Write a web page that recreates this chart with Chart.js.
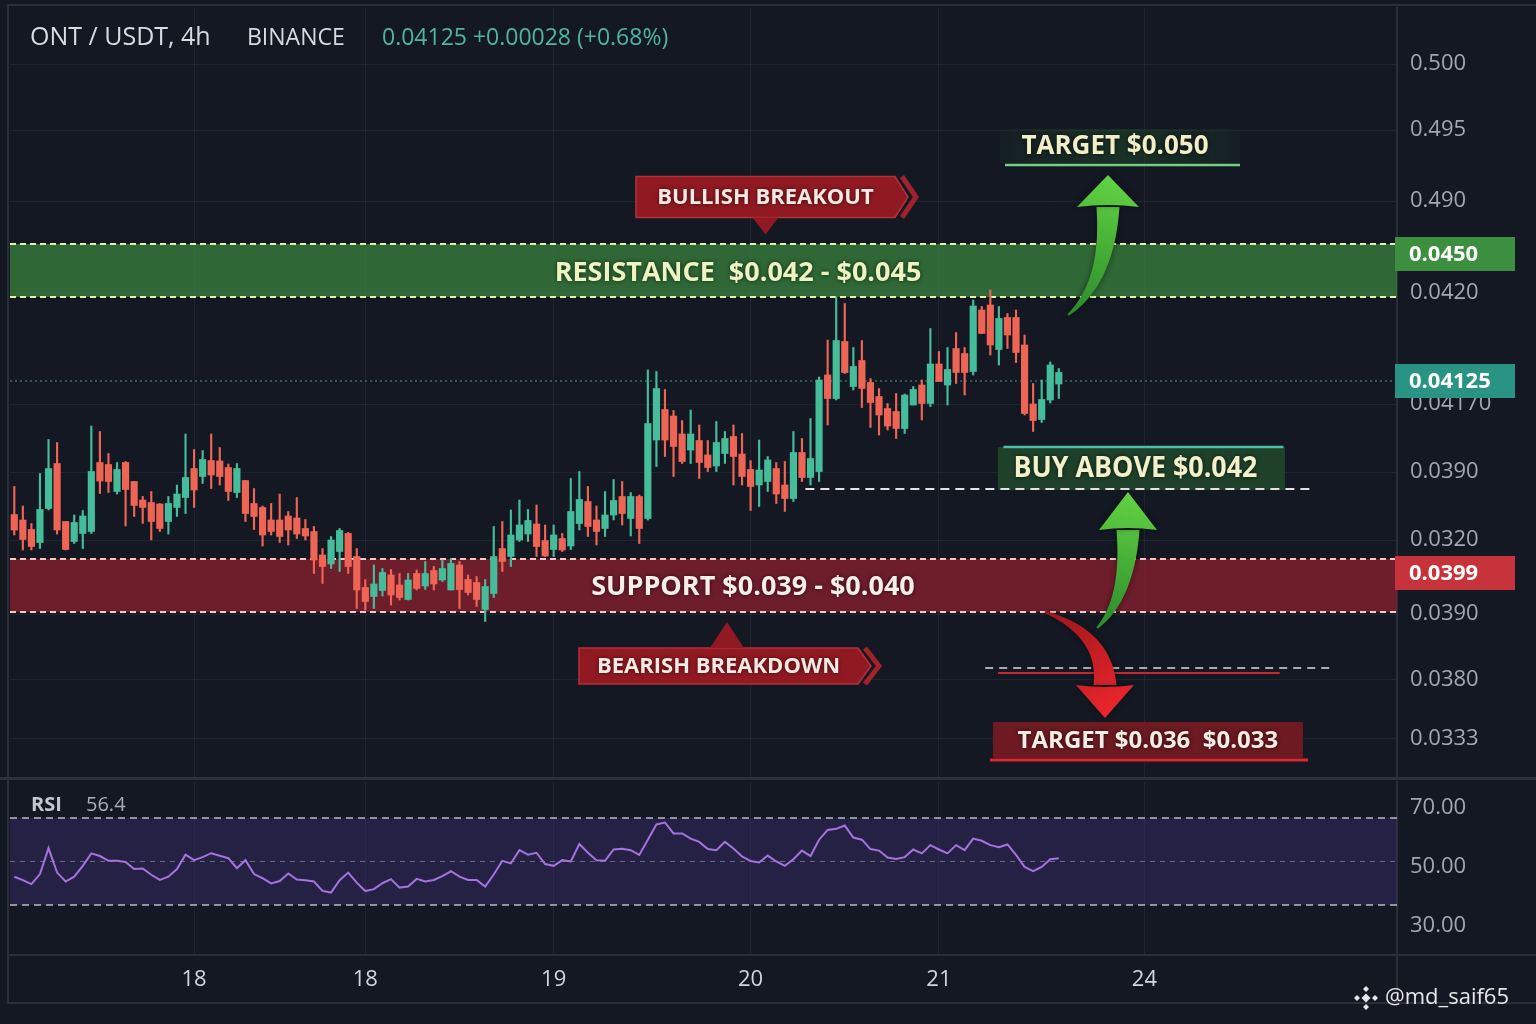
<!DOCTYPE html>
<html>
<head>
<meta charset="utf-8">
<script src="https://cdn.jsdelivr.net/npm/chart.js@4.4.1/dist/chart.umd.min.js"></script>
<style>
  html, body { margin: 0; padding: 0; background: #141823; }
  #wrap { position: relative; width: 1536px; height: 1024px; overflow: hidden; }
  #main { position: absolute; left: 0; top: 0; }
  #rsi { position: absolute; left: 0; top: 780px; }
</style>
</head>
<body>
<div id="wrap">
  <canvas id="main" width="1536" height="780"></canvas>
  <canvas id="rsi" width="1536" height="244"></canvas>
</div>
<script>
// ONT/USDT 4h candles
const candleOpen = [
  0.03971, 0.03960, 0.03941, 0.03915, 0.03983, 0.04073, 0.03957, 0.03917, 0.03933, 0.03937,
  0.04075, 0.04071, 0.04017, 0.04075, 0.04037, 0.04000, 0.03995, 0.03992, 0.03957, 0.03985,
  0.04005, 0.04063, 0.04047, 0.04079, 0.04078, 0.04065, 0.04015, 0.04039, 0.03993, 0.03985,
  0.03960, 0.03960, 0.03968, 0.03964, 0.03943, 0.03937, 0.03890, 0.03872, 0.03897, 0.03933,
  0.03887, 0.03825, 0.03807, 0.03819, 0.03850, 0.03830, 0.03801, 0.03853, 0.03828, 0.03859,
  0.03840, 0.03820, 0.03870, 0.03841, 0.03835, 0.03781, 0.03813, 0.03903, 0.03887, 0.03920,
  0.03932, 0.03952, 0.03919, 0.03901, 0.03923, 0.03908, 0.03953, 0.03997, 0.03960, 0.03943,
  0.03970, 0.04007, 0.03963, 0.04007, 0.03963, 0.04120, 0.04181, 0.04168, 0.04132, 0.04100,
  0.04119, 0.04090, 0.04068, 0.04093, 0.04127, 0.04092, 0.04061, 0.04030, 0.04037, 0.04063,
  0.04030, 0.04003, 0.04095, 0.04045, 0.04057, 0.04250, 0.04203, 0.04317, 0.04227, 0.04279,
  0.04235, 0.04207, 0.04183, 0.04177, 0.04143, 0.04190, 0.04230, 0.04193, 0.04272, 0.04230,
  0.04303, 0.04293, 0.04257, 0.04380, 0.04390, 0.04301, 0.04365, 0.04365, 0.04310, 0.04192,
  0.04161, 0.04200, 0.04232
];
const candleHigh = [
  0.04027, 0.03988, 0.03953, 0.04053, 0.04121, 0.04115, 0.03957, 0.03970, 0.03979, 0.04148,
  0.04137, 0.04093, 0.04075, 0.04077, 0.04037, 0.04007, 0.04017, 0.03993, 0.04007, 0.04030,
  0.04132, 0.04101, 0.04099, 0.04132, 0.04105, 0.04072, 0.04073, 0.04039, 0.04023, 0.03988,
  0.03993, 0.04012, 0.03977, 0.04005, 0.03961, 0.03947, 0.03903, 0.03927, 0.03943, 0.03935,
  0.03903, 0.03841, 0.03870, 0.03863, 0.03861, 0.03853, 0.03853, 0.03860, 0.03877, 0.03867,
  0.03880, 0.03883, 0.03877, 0.03850, 0.03847, 0.03841, 0.03947, 0.03957, 0.03980, 0.04000,
  0.03981, 0.03990, 0.03950, 0.03950, 0.03933, 0.04043, 0.04057, 0.04027, 0.03988, 0.04017,
  0.04041, 0.04037, 0.04015, 0.04010, 0.04260, 0.04257, 0.04221, 0.04179, 0.04159, 0.04180,
  0.04150, 0.04119, 0.04157, 0.04137, 0.04150, 0.04133, 0.04079, 0.04120, 0.04087, 0.04075,
  0.04077, 0.04137, 0.04123, 0.04163, 0.04246, 0.04320, 0.04406, 0.04393, 0.04305, 0.04319,
  0.04243, 0.04223, 0.04193, 0.04213, 0.04212, 0.04227, 0.04240, 0.04343, 0.04297, 0.04305,
  0.04335, 0.04305, 0.04400, 0.04387, 0.04420, 0.04387, 0.04373, 0.04380, 0.04330, 0.04233,
  0.04240, 0.04276, 0.04263
];
const candleLow = [
  0.03930, 0.03900, 0.03900, 0.03903, 0.03980, 0.03932, 0.03900, 0.03913, 0.03903, 0.03933,
  0.04013, 0.04015, 0.04012, 0.03948, 0.03967, 0.03953, 0.03920, 0.03937, 0.03932, 0.03967,
  0.03973, 0.03985, 0.04033, 0.04023, 0.04030, 0.03999, 0.04005, 0.03957, 0.03941, 0.03908,
  0.03930, 0.03915, 0.03910, 0.03923, 0.03920, 0.03853, 0.03833, 0.03863, 0.03857, 0.03853,
  0.03783, 0.03780, 0.03783, 0.03808, 0.03790, 0.03800, 0.03800, 0.03820, 0.03821, 0.03820,
  0.03837, 0.03820, 0.03783, 0.03810, 0.03787, 0.03757, 0.03805, 0.03857, 0.03867, 0.03917,
  0.03917, 0.03887, 0.03887, 0.03887, 0.03897, 0.03901, 0.03940, 0.03927, 0.03910, 0.03927,
  0.03960, 0.03950, 0.03928, 0.03913, 0.03960, 0.04067, 0.04087, 0.04047, 0.04073, 0.04073,
  0.04043, 0.04057, 0.04057, 0.04073, 0.04030, 0.04030, 0.03979, 0.03987, 0.04017, 0.03993,
  0.03977, 0.03997, 0.04037, 0.04030, 0.04037, 0.04150, 0.04200, 0.04253, 0.04220, 0.04185,
  0.04145, 0.04130, 0.04140, 0.04123, 0.04133, 0.04190, 0.04160, 0.04187, 0.04237, 0.04190,
  0.04233, 0.04210, 0.04250, 0.04333, 0.04290, 0.04270, 0.04303, 0.04275, 0.04170, 0.04137,
  0.04155, 0.04194, 0.04203
];
const candleClose = [
  0.03940, 0.03921, 0.03907, 0.03981, 0.04063, 0.03940, 0.03901, 0.03955, 0.03968, 0.04057,
  0.04038, 0.04037, 0.04061, 0.04021, 0.03989, 0.03985, 0.03957, 0.03943, 0.03993, 0.04012,
  0.04045, 0.04020, 0.04081, 0.04050, 0.04047, 0.04017, 0.04063, 0.03973, 0.03967, 0.03930,
  0.03937, 0.03927, 0.03940, 0.03932, 0.03928, 0.03880, 0.03867, 0.03920, 0.03939, 0.03867,
  0.03820, 0.03797, 0.03832, 0.03855, 0.03810, 0.03805, 0.03840, 0.03823, 0.03853, 0.03832,
  0.03863, 0.03873, 0.03821, 0.03815, 0.03801, 0.03827, 0.03887, 0.03877, 0.03930, 0.03950,
  0.03959, 0.03907, 0.03888, 0.03930, 0.03900, 0.03977, 0.04001, 0.03947, 0.03937, 0.03970,
  0.03999, 0.03973, 0.04007, 0.03943, 0.04153, 0.04223, 0.04120, 0.04107, 0.04077, 0.04132,
  0.04075, 0.04065, 0.04115, 0.04123, 0.04087, 0.04047, 0.04027, 0.04060, 0.04080, 0.04012,
  0.04003, 0.04095, 0.04045, 0.04083, 0.04240, 0.04203, 0.04319, 0.04255, 0.04267, 0.04223,
  0.04195, 0.04170, 0.04148, 0.04143, 0.04210, 0.04221, 0.04193, 0.04272, 0.04237, 0.04261,
  0.04255, 0.04255, 0.04388, 0.04333, 0.04310, 0.04363, 0.04330, 0.04295, 0.04173, 0.04159,
  0.04201, 0.04270, 0.04255
];
// RSI, one value per candle
const rsiValues = [
  43.0, 41.4, 39.6, 44.2, 56.1, 44.9, 40.8, 43.0, 48.0, 53.7,
  52.5, 50.3, 50.3, 49.8, 46.5, 46.8, 43.9, 41.5, 43.0, 46.5,
  53.1, 50.6, 52.0, 53.8, 52.6, 51.5, 46.9, 50.6, 44.2, 42.3,
  39.9, 41.0, 44.5, 41.7, 41.4, 40.8, 36.5, 35.7, 41.4, 44.9,
  40.3, 36.4, 37.3, 40.0, 41.9, 38.0, 38.5, 42.0, 40.8, 41.5,
  43.3, 45.5, 43.0, 41.5, 41.5, 38.5, 44.0, 50.3, 49.1, 55.2,
  53.1, 54.0, 48.8, 48.0, 50.6, 50.0, 58.0, 54.0, 50.6, 50.3,
  55.5, 55.8, 55.2, 53.0, 60.0, 67.0, 67.9, 62.9, 62.9, 60.5,
  59.0, 55.7, 55.2, 59.0, 56.0, 52.3, 50.2, 49.5, 52.7, 50.0,
  48.0, 51.0, 55.0, 52.5, 60.0, 64.5, 65.0, 66.5, 61.0, 60.0,
  55.7, 55.0, 51.8, 51.1, 52.0, 55.5, 53.7, 57.5, 55.5, 53.7,
  57.5, 55.2, 60.5, 59.5, 57.5, 56.5, 57.8, 53.0, 47.5, 45.6,
  47.5, 51.0, 51.5
];

// time axis: candle slot where each day label sits
const dayTickIdx = [21, 41, 63, 86, 108, 132];
const dayTickText = ['18', '18', '19', '20', '21', '24'];

// price axis labels as printed on the picture
const priceTickPos = [0.04872, 0.0474, 0.04598, 0.04414, 0.04192, 0.04056, 0.0392, 0.03772, 0.0364, 0.03522];
const priceTickText = ['0.500', '0.495', '0.490', '0.0420', '0.04170', '0.0390', '0.0320', '0.0390', '0.0380', '0.0333'];
const badgeLevels = [0.04492, 0.04238, 0.03854];
const badgeText = ['0.0450', '0.04125', '0.0399'];

const rsiTickPos = [74.6, 47.7, 20.3];
const rsiTickText = ['70.00', '50.00', '30.00'];
const rsiBand = [30, 70];
const rsiMid = 50;

const resistanceZone = [0.04406, 0.04512];
const supportZone = [0.03776, 0.03882];
const lastPrice = 0.04238;
const buyLevel = 0.04022;
const breakdownLevel = 0.03664;
const breakdownRedLevel = 0.03654;

const SLOTS = 162;
const UP = '#45bd9b';
const DOWN = '#ef6555';
const FONT = '"Open Sans", "Noto Sans", sans-serif';
const GRID = 'rgba(255,255,255,0.055)';
const FRAME = '#2a2e39';

Chart.defaults.font.family = FONT;

const candleColors = candleClose.map((c, i) => (c >= candleOpen[i] ? UP : DOWN));

function hline(ctx, x0, x1, y, color, dash, width) {
  ctx.save();
  ctx.strokeStyle = color;
  ctx.lineWidth = width;
  ctx.setLineDash(dash);
  ctx.beginPath();
  ctx.moveTo(x0, y);
  ctx.lineTo(x1, y);
  ctx.stroke();
  ctx.restore();
}

function text(ctx, str, x, y, font, color, maxW, align, shadow) {
  ctx.save();
  ctx.font = font;
  ctx.fillStyle = color;
  ctx.textAlign = align || 'center';
  ctx.textBaseline = 'middle';
  if (shadow) {
    ctx.shadowColor = 'rgba(0,0,0,0.6)';
    ctx.shadowBlur = 4;
  }
  if (maxW) ctx.fillText(str, x, y, maxW);
  else ctx.fillText(str, x, y);
  ctx.restore();
}

function ribbon(ctx, cx, cy, w, h, str, ptrDir, ptrX) {
  const l = cx - w / 2, r = cx + w / 2, t = cy - h / 2, b = cy + h / 2;
  ctx.save();
  ctx.fillStyle = '#911a22';
  ctx.beginPath();
  ctx.moveTo(l, t);
  ctx.lineTo(r, t);
  ctx.lineTo(r + 13, cy);
  ctx.lineTo(r, b);
  ctx.lineTo(l, b);
  ctx.closePath();
  ctx.fill();
  ctx.strokeStyle = '#b3313a';
  ctx.lineWidth = 1.5;
  ctx.stroke();
  ctx.beginPath();
  ctx.moveTo(r + 7, t);
  ctx.lineTo(r + 21, cy);
  ctx.lineTo(r + 7, b);
  ctx.strokeStyle = '#a1222a';
  ctx.lineWidth = 5;
  ctx.stroke();
  ctx.fillStyle = '#911a22';
  ctx.beginPath();
  if (ptrDir === 'down') {
    ctx.moveTo(ptrX - 13, b);
    ctx.lineTo(ptrX + 13, b);
    ctx.lineTo(ptrX, b + 17);
  } else {
    ctx.moveTo(ptrX - 17, t);
    ctx.lineTo(ptrX + 17, t);
    ctx.lineTo(ptrX, t - 26);
  }
  ctx.closePath();
  ctx.fill();
  ctx.restore();
  text(ctx, str, cx, cy + 1, 'bold 22px ' + FONT, '#f6e9e3', w - 30, 'center', true);
}

// tapered curved arrow from tail to tip
function arrow(ctx, tail, tip, headLen, headW, c0, c1) {
  const dir = tip.y < tail.y ? 1 : -1;
  const end = { x: tip.x, y: tip.y + dir * headLen };
  const ctrl = { x: end.x, y: tail.y + (end.y - tail.y) * 0.3 };
  const N = 40, left = [], right = [];
  for (let k = 0; k <= N; k++) {
    const t = k / N;
    const x = (1 - t) * (1 - t) * tail.x + 2 * (1 - t) * t * ctrl.x + t * t * end.x;
    const y = (1 - t) * (1 - t) * tail.y + 2 * (1 - t) * t * ctrl.y + t * t * end.y;
    const dx = 2 * (1 - t) * (ctrl.x - tail.x) + 2 * t * (end.x - ctrl.x);
    const dy = 2 * (1 - t) * (ctrl.y - tail.y) + 2 * t * (end.y - ctrl.y);
    const len = Math.hypot(dx, dy) || 1;
    const w = 1 + t * 10.5;
    left.push([x - (dy / len) * w, y + (dx / len) * w]);
    right.push([x + (dy / len) * w, y - (dx / len) * w]);
  }
  const g = ctx.createLinearGradient(tail.x, tail.y, tip.x, tip.y);
  g.addColorStop(0, c0);
  g.addColorStop(1, c1);
  ctx.save();
  ctx.fillStyle = g;
  ctx.shadowColor = 'rgba(0,0,0,0.45)';
  ctx.shadowBlur = 6;
  ctx.beginPath();
  left.forEach(([x, y], k) => (k ? ctx.lineTo(x, y) : ctx.moveTo(x, y)));
  for (let k = right.length - 1; k >= 0; k--) ctx.lineTo(right[k][0], right[k][1]);
  ctx.closePath();
  ctx.fill();
  ctx.beginPath();
  ctx.moveTo(tip.x, tip.y);
  ctx.lineTo(end.x - headW / 2, end.y);
  ctx.quadraticCurveTo(end.x, end.y - dir * 4, end.x + headW / 2, end.y);
  ctx.closePath();
  ctx.fill();
  ctx.restore();
}

// keep Chart.js from reserving room for half-labels at the axis ends
function noEdgePadding(s) {
  s.paddingTop = 0;
  s.paddingBottom = 0;
  s.paddingLeft = 0;
  s.paddingRight = 0;
}

const mainDecor = {
  id: 'mainDecor',
  beforeDatasetsDraw(chart) {
    const { ctx, chartArea: a } = chart;
    const Y = v => chart.scales.y.getPixelForValue(v);
    const rTop = Y(resistanceZone[1]), rBot = Y(resistanceZone[0]);
    const sTop = Y(supportZone[1]), sBot = Y(supportZone[0]);
    ctx.save();
    ctx.fillStyle = 'rgba(55,125,60,0.78)';
    ctx.fillRect(a.left, rTop, a.width, rBot - rTop);
    ctx.fillStyle = 'rgba(130,30,45,0.82)';
    ctx.fillRect(a.left, sTop, a.width, sBot - sTop);
    ctx.restore();
    hline(ctx, a.left, a.right, rTop, '#e4f2a6', [6, 4], 2);
    hline(ctx, a.left, a.right, rBot, '#e4f2a6', [6, 4], 2);
    hline(ctx, a.left, a.right, sTop, '#f1c9c9', [6, 4], 2);
    hline(ctx, a.left, a.right, sBot, '#f1c9c9', [6, 4], 2);
    hline(ctx, a.left, a.right, Y(lastPrice), 'rgba(90,190,170,0.75)', [2, 3], 1);
  },
  afterDatasetsDraw(chart) {
    const { ctx } = chart;
    const X = v => chart.scales.x.getPixelForValue(v);
    const Y = v => chart.scales.y.getPixelForValue(v);

    // zone captions
    text(ctx, 'RESISTANCE  $0.042 - $0.045', X(84.53), Y((resistanceZone[0] + resistanceZone[1]) / 2) + 3,
      'bold 27px ' + FONT, '#eef3c2', 376, 'center', true);
    text(ctx, 'SUPPORT $0.039 - $0.040', X(86.28), Y((supportZone[0] + supportZone[1]) / 2) + 2,
      'bold 27px ' + FONT, '#f8eee8', 334, 'center', true);

    // ribbons
    ribbon(ctx, X(87.74), Y(0.04606), 259, 41, 'BULLISH BREAKOUT', 'down', X(87.74));
    ribbon(ctx, X(82.25), Y(0.03668), 279, 36, 'BEARISH BREAKDOWN', 'up', X(82.25) + 8.5);

    // buy level
    const bx = X(131.65), by = Y(0.04063);
    ctx.save();
    ctx.fillStyle = 'rgba(32,70,42,0.9)';
    ctx.fillRect(bx - 143.5, by - 21.5, 287, 43);
    ctx.restore();
    hline(ctx, bx - 138, bx + 142, by - 21.5, '#4dbfa5', [], 2.5);
    hline(ctx, X(92.4), X(151.9), Y(buyLevel), '#e2e2e2', [9, 6], 2);
    text(ctx, 'BUY ABOVE $0.042', bx - 6, by + 1, 'bold 28px ' + FONT, '#f3f0cc', 244, 'center', true);

    // lower target lines
    hline(ctx, X(113.4), X(153.7), Y(breakdownLevel), 'rgba(220,220,225,0.75)', [8, 6], 2);
    hline(ctx, X(114.9), X(147.8), Y(breakdownRedLevel), '#c8282e', [], 2);

    // upper target
    const tx = X(128.56), ty = Y(0.04708);
    ctx.save();
    const glow = ctx.createLinearGradient(tx - 115, 0, tx + 125, 0);
    glow.addColorStop(0, 'rgba(32,72,42,0.15)');
    glow.addColorStop(0.5, 'rgba(32,72,42,0.55)');
    glow.addColorStop(1, 'rgba(32,72,42,0.15)');
    ctx.fillStyle = glow;
    ctx.fillRect(tx - 115, ty - 17, 240, 34);
    ctx.restore();
    text(ctx, 'TARGET $0.050', tx, ty + 1, 'bold 26px ' + FONT, '#f1eec8', 210, 'center', true);
    hline(ctx, tx - 110, tx + 125, ty + 19, '#74d27e', [], 2.5);

    // lower target
    const lx = X(132.41), ly = Y(0.0352);
    ctx.save();
    ctx.fillStyle = '#6d1a22';
    ctx.fillRect(lx - 155, ly - 18, 310, 36);
    ctx.restore();
    text(ctx, 'TARGET $0.036  $0.033', lx, ly + 1, 'bold 24px ' + FONT, '#f6ece6', 285, 'center', true);
    hline(ctx, lx - 158, lx + 160, ly + 20, '#e0262e', [], 3);

    // arrows
    arrow(ctx, { x: X(123.07), y: Y(0.0437) }, { x: X(127.74), y: Y(0.0465) }, 32, 62, '#2a8a2a', '#62d243');
    arrow(ctx, { x: X(126.46), y: Y(0.03744) }, { x: X(130.08), y: Y(0.04016) }, 38, 58, '#2a8a2a', '#62d243');
    arrow(ctx, { x: X(120.38), y: Y(0.03776) }, { x: X(127.39), y: Y(0.03564) }, 33, 58, '#9c161c', '#ec262c');
  },
  afterDraw(chart) {
    const { ctx, chartArea: a, width } = chart;
    const Y = v => chart.scales.y.getPixelForValue(v);

    // price badges on the axis
    const badgeColors = ['#3b8f3f', '#2a9484', '#c7333a'];
    badgeLevels.forEach((lv, i) => {
      const y = Y(lv);
      ctx.save();
      ctx.fillStyle = badgeColors[i];
      ctx.fillRect(a.right - 2, y - 17, 120, 34);
      ctx.restore();
      text(ctx, badgeText[i], a.right + 12, y + 1, 'bold 22px ' + FONT, '#ffffff', null, 'left');
    });

    // header
    text(ctx, 'ONT / USDT, 4h', 30, 38, '25px ' + FONT, '#d8dbe2', 196, 'left');
    text(ctx, 'BINANCE', 247, 38, '23px ' + FONT, '#d8dbe2', 103, 'left');
    text(ctx, '0.04125 +0.00028 (+0.68%)', 382, 38, '23px ' + FONT, '#4fb5a2', 289, 'left');

    // frame
    ctx.save();
    ctx.fillStyle = FRAME;
    ctx.fillRect(8, 4, width - 8, 2);
    ctx.fillRect(7, 4, 2, chart.height - 4);
    ctx.fillStyle = '#2c303b';
    ctx.fillRect(0, chart.height - 3, width, 3);
    ctx.restore();
  }
};

const rsiDecor = {
  id: 'rsiDecor',
  beforeDatasetsDraw(chart) {
    const { ctx, chartArea: a } = chart;
    const Y = v => chart.scales.y.getPixelForValue(v);
    ctx.save();
    ctx.fillStyle = 'rgba(74,52,140,0.33)';
    ctx.fillRect(a.left, Y(rsiBand[1]), a.width, Y(rsiBand[0]) - Y(rsiBand[1]));
    ctx.restore();
    hline(ctx, a.left, a.right, Y(rsiBand[1]), 'rgba(225,225,235,0.8)', [7, 5], 1.5);
    hline(ctx, a.left, a.right, Y(rsiBand[0]), 'rgba(225,225,235,0.8)', [7, 5], 1.5);
    hline(ctx, a.left, a.right, Y(rsiMid), 'rgba(200,200,215,0.45)', [5, 5], 1);
  },
  afterDraw(chart) {
    const { ctx, chartArea: a, width } = chart;
    text(ctx, 'RSI', 31, 25, 'bold 20px ' + FONT, '#c4c7cf', null, 'left');
    text(ctx, '56.4', 86, 25, '20px ' + FONT, '#a9adb8', null, 'left');

    ctx.save();
    ctx.fillStyle = FRAME;
    ctx.fillRect(7, 0, 2, 224);
    ctx.fillRect(8, a.bottom, width - 8, 2);
    ctx.fillRect(8, 222, width - 8, 2);
    ctx.fillRect(a.right - 1, a.bottom, 2, 223 - a.bottom);
    ctx.restore();

    // watermark
    ctx.save();
    ctx.fillStyle = '#e6e6e6';
    const cx = 1366, cy = 218;
    [[0, 0, 4.5], [0, -9, 3], [0, 9, 3], [-9, 0, 3], [9, 0, 3]].forEach(([dx, dy, r]) => {
      ctx.beginPath();
      ctx.moveTo(cx + dx, cy + dy - r);
      ctx.lineTo(cx + dx + r, cy + dy);
      ctx.lineTo(cx + dx, cy + dy + r);
      ctx.lineTo(cx + dx - r, cy + dy);
      ctx.closePath();
      ctx.fill();
    });
    ctx.restore();
    text(ctx, '@md_saif65', 1385, 218, '22px ' + FONT, '#e6e6e6', 143, 'left');
  }
};

const xScaleBase = {
  type: 'linear',
  min: -0.5,
  max: SLOTS - 0.5,
  offset: false,
  afterBuildTicks: s => { s.ticks = dayTickIdx.map(v => ({ value: v })); },
  grid: { color: GRID, drawTicks: false, offset: false },
  border: { display: false }
};

new Chart(document.getElementById('main'), {
  type: 'bar',
  data: {
    datasets: [
      {
        label: 'body',
        data: candleOpen.map((o, i) => ({ x: i, y: [o, candleClose[i]] })),
        backgroundColor: candleColors,
        barThickness: 6.5,
        minBarLength: 1,
        grouped: false
      },
      {
        label: 'wick',
        data: candleLow.map((l, i) => ({ x: i, y: [l, candleHigh[i]] })),
        backgroundColor: candleColors,
        barThickness: 1.5,
        grouped: false
      }
    ]
  },
  options: {
    responsive: false,
    devicePixelRatio: 1,
    animation: false,
    layout: { padding: { left: 10, top: 8, right: 0, bottom: 2 } },
    plugins: { legend: { display: false }, tooltip: { enabled: false } },
    scales: {
      x: Object.assign({}, xScaleBase, {
        ticks: { display: false },
        afterFit: s => { noEdgePadding(s); s.height = 0; }
      }),
      y: {
        position: 'right',
        min: 0.03444,
        max: 0.04984,
        afterBuildTicks: s => { s.ticks = priceTickPos.map(v => ({ value: v })); },
        afterFit: s => { noEdgePadding(s); s.width = 139; },
        ticks: {
          autoSkip: false,
          padding: 13,
          color: '#a3a7b3',
          font: { size: 22 },
          callback: (v, i) => priceTickText[i]
        },
        grid: { color: GRID, drawTicks: false },
        border: { display: true, color: FRAME, width: 2 }
      }
    }
  },
  plugins: [mainDecor]
});

new Chart(document.getElementById('rsi'), {
  type: 'line',
  data: {
    datasets: [{
      label: 'RSI',
      data: rsiValues.map((v, i) => ({ x: i, y: v })),
      borderColor: '#a473dc',
      borderWidth: 2,
      pointRadius: 0,
      tension: 0
    }]
  },
  options: {
    responsive: false,
    devicePixelRatio: 1,
    animation: false,
    layout: { padding: { left: 10, top: 2, right: 0, bottom: 0 } },
    plugins: { legend: { display: false }, tooltip: { enabled: false } },
    scales: {
      x: Object.assign({}, xScaleBase, {
        ticks: {
          autoSkip: false,
          maxRotation: 0,
          padding: 13,
          color: '#d1d4dc',
          font: { size: 22 },
          callback: v => dayTickText[dayTickIdx.indexOf(v)]
        },
        afterFit: s => { noEdgePadding(s); s.height = 70; }
      }),
      y: {
        position: 'right',
        min: 7.5,
        max: 86.5,
        afterBuildTicks: s => { s.ticks = rsiTickPos.map(v => ({ value: v })); },
        afterFit: s => { noEdgePadding(s); s.width = 139; },
        ticks: {
          autoSkip: false,
          padding: 13,
          color: '#a3a7b3',
          font: { size: 22 },
          callback: (v, i) => rsiTickText[i]
        },
        grid: { display: false, drawTicks: false },
        border: { display: true, color: FRAME, width: 2 }
      }
    }
  },
  plugins: [rsiDecor]
});
</script>
</body>
</html>
